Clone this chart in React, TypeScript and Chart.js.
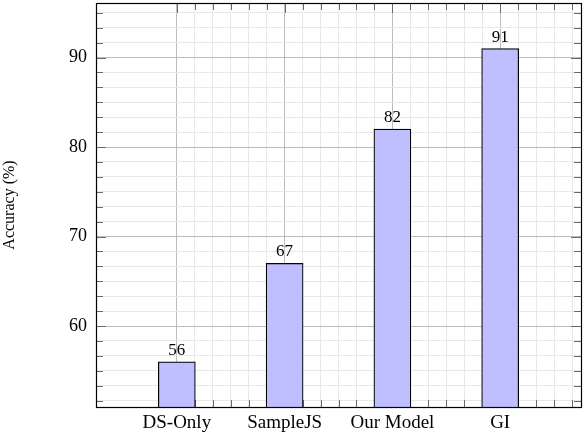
import React, { useEffect, useRef } from "react";
import { Chart, registerables } from "chart.js";

Chart.register(...registerables);

const categories = ["DS-Only", "SampleJS", "Our Model", "GI"];
const accuracy = [56, 67, 82, 91];
const yMajorTicks = [60, 70, 80, 90];
const yAxisTitle = "Accuracy (%)";

const Y_MIN = 50.95;
const Y_MAX = 96.1;
const X_MIN = -0.75;
const X_MAX = 3.75;
const MINOR_DIV = 6;

const isWhole = (v: number) => Math.abs(v - Math.round(v)) < 1e-6;
const isYMajor = (v: number) => isWhole(v / 10);

function yTickValues(): number[] {
  const out: number[] = [];
  const step = 10 / MINOR_DIV;
  const start = Math.ceil(Y_MIN / step);
  const end = Math.floor(Y_MAX / step);
  for (let k = start; k <= end; k++) {
    const v = k * step;
    out.push(isYMajor(v) ? Math.round(v) : v);
  }
  return out;
}

function xTickValues(): number[] {
  const out: number[] = [];
  const end = Math.floor(X_MAX * MINOR_DIV);
  for (let k = 0; k <= end; k++) {
    const v = k / MINOR_DIV;
    out.push(isWhole(v) ? Math.round(v) : v);
  }
  return out;
}

const frameAndTicks = {
  id: "frameAndTicks",
  beforeDatasetsDraw(chart: any) {
    const { ctx, chartArea, scales } = chart;
    const { left, right, top, bottom } = chartArea;
    ctx.save();
    ctx.strokeStyle = "#6a6a6a";
    ctx.lineWidth = 1;
    ctx.beginPath();
    for (const t of scales.x.ticks) {
      const px = Math.round(scales.x.getPixelForValue(t.value)) + 0.5;
      const len = isWhole(t.value) ? 10 : 7;
      ctx.moveTo(px, bottom);
      ctx.lineTo(px, bottom - len);
      ctx.moveTo(px, top);
      ctx.lineTo(px, top + len);
    }
    for (const t of scales.y.ticks) {
      const py = Math.round(scales.y.getPixelForValue(t.value)) + 0.5;
      const len = isYMajor(t.value) ? 10 : 7;
      ctx.moveTo(left, py);
      ctx.lineTo(left + len, py);
      ctx.moveTo(right, py);
      ctx.lineTo(right - len, py);
    }
    ctx.stroke();
    ctx.restore();
  },
  afterDatasetsDraw(chart: any) {
    const { ctx, chartArea } = chart;
    const { left, right, top, bottom } = chartArea;
    ctx.save();
    ctx.strokeStyle = "#000";
    ctx.lineWidth = 1.2;
    ctx.strokeRect(
      Math.round(left) + 0.5,
      Math.round(top) + 0.5,
      Math.round(right - left),
      Math.round(bottom - top)
    );
    const meta = chart.getDatasetMeta(0);
    ctx.fillStyle = "#000";
    ctx.font = "17px 'Liberation Serif', serif";
    ctx.textAlign = "center";
    ctx.textBaseline = "alphabetic";
    meta.data.forEach((el: any, i: number) => {
      ctx.fillText(String(accuracy[i]), el.x, el.y - 7);
    });
    ctx.restore();
  },
};

export default function App() {
  const ref = useRef<HTMLCanvasElement | null>(null);

  useEffect(() => {
    if (!ref.current) return;
    const yTicks = yTickValues();
    const xTicks = xTickValues();
    const chart = new Chart(ref.current, {
      type: "bar",
      data: {
        datasets: [
          {
            data: categories.map((_, i) => ({ x: i, y: accuracy[i] })),
            backgroundColor: "#bfbfff",
            borderColor: "#000",
            borderWidth: 1.2,
            barThickness: 37,
          },
        ],
      },
      options: {
        animation: false,
        responsive: false,
        maintainAspectRatio: false,
        layout: { padding: { top: 3, right: 4, left: 0, bottom: 0 } },
        plugins: { legend: { display: false }, tooltip: { enabled: false } },
        scales: {
          x: {
            type: "linear",
            min: X_MIN,
            max: X_MAX,
            offset: false,
            border: { display: false },
            grid: {
              offset: false,
              drawTicks: false,
              color: (c: any) =>
                c.tick && isWhole(c.tick.value) ? "#bcbcbc" : "#e8e8e8",
              lineWidth: 1,
            },
            afterBuildTicks: (scale: any) => {
              scale.ticks = xTicks.map((v) => ({ value: v }));
            },
            afterFit: (scale: any) => {
              scale.height = 27;
              scale.paddingLeft = 0;
              scale.paddingRight = 0;
            },
            ticks: {
              autoSkip: false,
              maxRotation: 0,
              minRotation: 0,
              padding: 5,
              color: "#000",
              font: { family: "'Liberation Serif', serif", size: 19 },
              callback: (v: any) =>
                isWhole(Number(v)) && categories[Math.round(Number(v))] !== undefined
                  ? categories[Math.round(Number(v))]
                  : "",
            },
          },
          y: {
            type: "linear",
            min: Y_MIN,
            max: Y_MAX,
            border: { display: false },
            grid: {
              drawTicks: false,
              color: (c: any) =>
                c.tick && isYMajor(c.tick.value) ? "#bcbcbc" : "#e8e8e8",
              lineWidth: 1,
            },
            afterBuildTicks: (scale: any) => {
              scale.ticks = yTicks.map((v) => ({ value: v }));
            },
            afterFit: (scale: any) => {
              scale.width = 96;
              scale.paddingTop = 0;
              scale.paddingBottom = 0;
            },
            title: {
              display: true,
              text: yAxisTitle,
              color: "#000",
              padding: { top: 0, bottom: 0 },
              font: { family: "'Liberation Serif', serif", size: 16 },
            },
            ticks: {
              autoSkip: false,
              padding: 9,
              color: "#000",
              font: { family: "'Liberation Serif', serif", size: 18 },
              callback: (v: any) => {
                const n = Number(v);
                return yMajorTicks.some((m) => Math.abs(m - n) < 1e-6)
                  ? String(Math.round(n))
                  : "";
              },
            },
          },
        },
      },
      plugins: [frameAndTicks],
    });
    return () => chart.destroy();
  }, []);

  return (
    <div style={{ position: "absolute", left: 0, top: 0, width: 585, height: 434, background: "#fff" }}>
      <canvas ref={ref} width={585} height={434} style={{ width: 585, height: 434, display: "block" }} />
    </div>
  );
}
